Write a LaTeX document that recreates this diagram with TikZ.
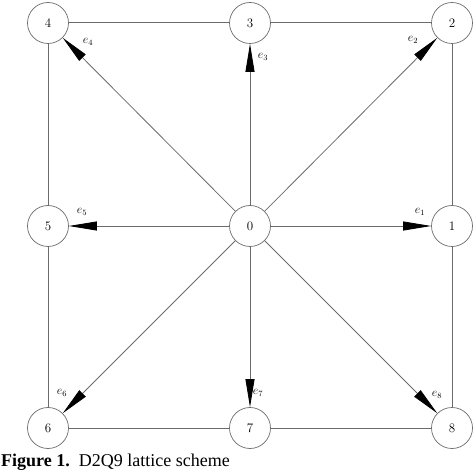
\documentclass[tikz,border=0pt]{standalone}
\usepackage{fontspec}
\newfontfamily\capfont{Liberation Serif}
\usetikzlibrary{arrows.meta}
\definecolor{linegray}{gray}{0.42}
\begin{document}
\begin{tikzpicture}[x=1pt,y=-1pt,
  site/.style={circle,draw=linegray,line width=0.7pt,minimum size=41pt,inner sep=0pt,font=\fontsize{13}{13}\selectfont},
  lattice/.style={draw=linegray,line width=1pt},
  vel/.style={draw=linegray,line width=0.8pt,-{Triangle[length=28pt,width=9pt,color=black,fill=black]}},
  lab/.style={font=\fontsize{12}{12}\selectfont,inner sep=0pt}]
\useasboundingbox (0,0) rectangle (474,470);
\node[site] (n4) at (48,23) {4};
\node[site] (n3) at (250,23) {3};
\node[site] (n2) at (452,23) {2};
\node[site] (n5) at (48,226) {5};
\node[site] (n0) at (250,226) {0};
\node[site] (n1) at (452,226) {1};
\node[site] (n6) at (48,428) {6};
\node[site] (n7) at (250,428) {7};
\node[site] (n8) at (452,428) {8};
\draw[lattice] (n4) -- (n3) -- (n2) -- (n1) -- (n8) -- (n7) -- (n6) -- (n5) -- (n4);
\foreach \t in {n1,n2,n3,n4,n5,n6,n7,n8}
  \draw[vel] (n0) -- (\t);
\node[lab] (l1) at (420,212) {$e_1$};
\node[lab] (l2) at (413,40) {$e_2$};
\node[lab] (l3) at (263,57) {$e_3$};
\node[lab] (l4) at (88,42) {$e_4$};
\node[lab] (l5) at (82,212) {$e_5$};
\node[lab] (l6) at (62,393) {$e_6$};
\node[lab] (l7) at (258,393) {$e_7$};
\node[lab] (l8) at (437,395) {$e_8$};
\node[anchor=base west,inner sep=0pt,font=\capfont\fontsize{18}{18}\selectfont] (cap) at (1,466) {\textbf{Figure 1.}\ \ D2Q9 lattice scheme};
\end{tikzpicture}
\end{document}
